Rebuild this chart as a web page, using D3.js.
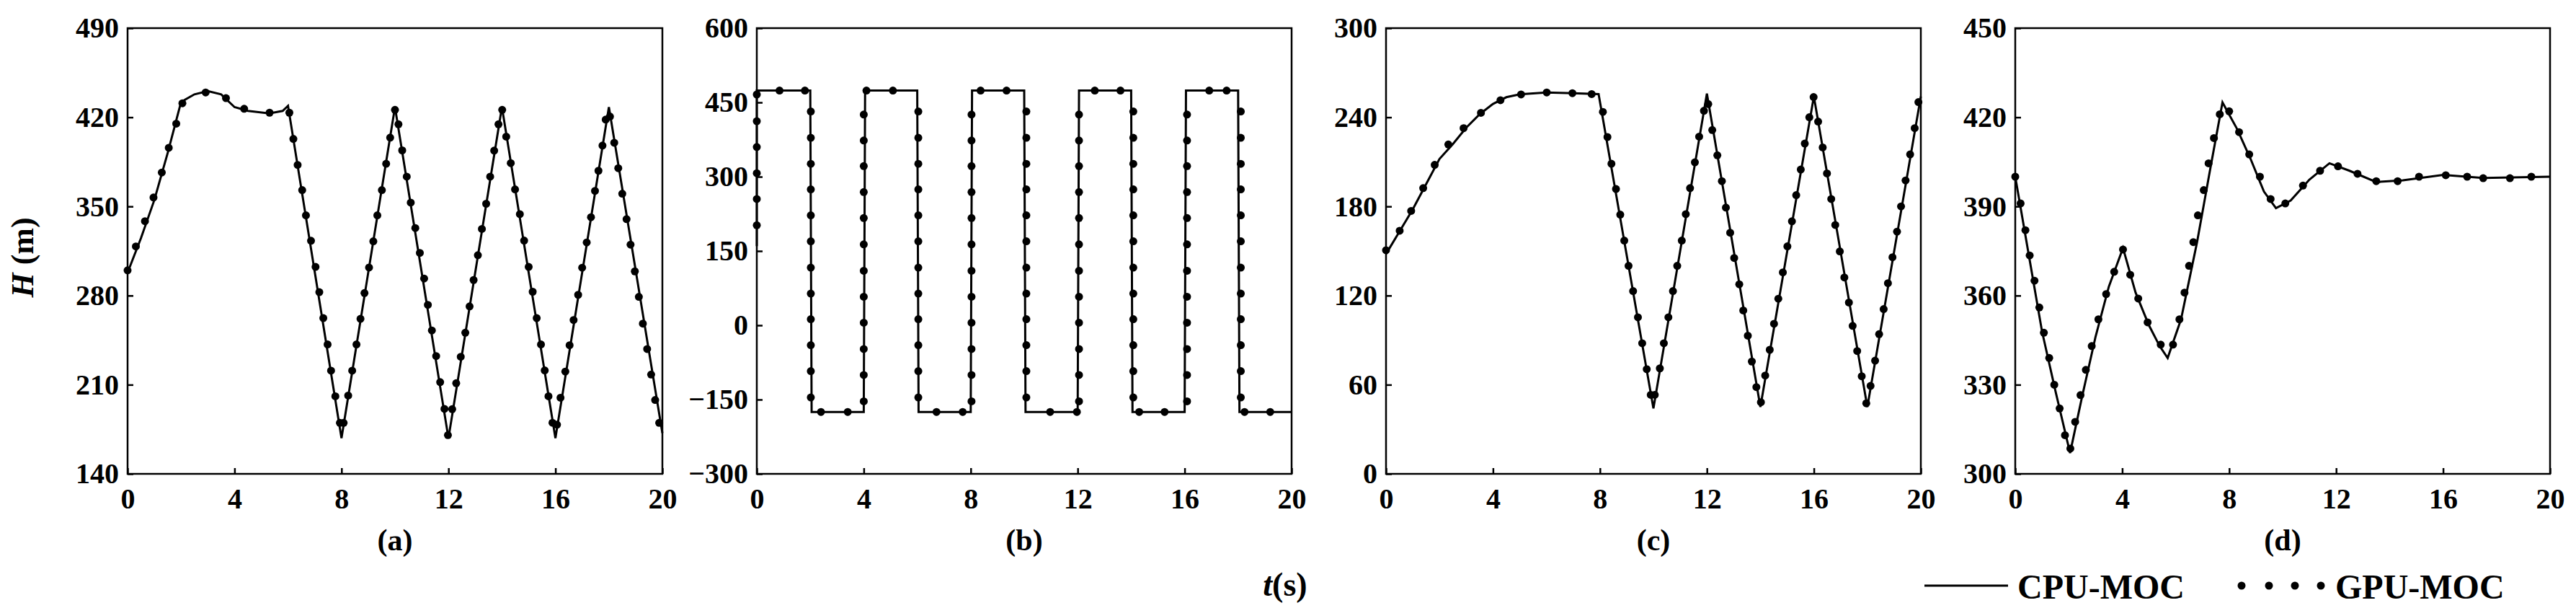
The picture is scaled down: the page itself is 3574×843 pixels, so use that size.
<!DOCTYPE html>
<html>
<head>
<meta charset="utf-8">
<script src="https://cdn.jsdelivr.net/npm/d3@7"></script>
<style>
  body { margin: 0; background: #fff; }
  text { font-family: "Liberation Serif", "DejaVu Serif", serif; font-weight: bold; fill: #000; }
</style>
</head>
<body>
<svg id="chart" width="3574" height="843"></svg>
<script>
// panel (a)
const lineA = [[0,298],[0.5,325],[1,355],[1.5,392],[2,432],[2.5,438],[3,440.5],[3.5,438],[4,428],[4.5,425],[5.3,423],[5.8,425],[6,429],[8,168],[10,428],[12,168],[14,428],[16,168],[18,428],[20,172]];
const dotsA = [[0,299.8],[0.31,318.6],[0.65,338.4],[0.97,357],[1.28,376.6],[1.54,396],[1.82,415],[2.05,431],[2.92,439.5],[3.68,435],[4.36,426.7],[5.31,423.6],[6.05,423.6],
  [6.2,403],[6.36,382.6],[6.53,362.8],[6.67,343],[6.86,323],[7.03,302.5],[7.17,282.7],[7.32,262.3],[7.48,241.6],[7.61,221],[7.77,200.9],[7.94,180],
  [8.08,180],[8.25,201.5],[8.4,221],[8.56,241.6],[8.71,261.7],[8.86,282],[9.03,302],[9.19,322.6],[9.34,343],[9.51,362.8],[9.67,383.5],[9.82,404],[10.0,425.8],
  [10.13,414.5],[10.27,394],[10.44,373.4],[10.59,353],[10.76,333],[10.93,313.5],[11.09,293.4],[11.23,272.7],[11.38,252.6],[11.54,232.5],[11.69,212],[11.85,191],[11.98,170.4],
  [12.14,190.8],[12.29,211.2],[12.46,231.9],[12.63,250.8],[12.79,271.5],[12.94,292.2],[13.1,311.7],[13.25,332.3],[13.41,352.1],[13.56,373.4],[13.71,393.8],[13.87,414.5],[14.01,425.8],
  [14.16,404.8],[14.33,384],[14.49,363.4],[14.67,343.9],[14.83,323.2],[15.0,302.5],[15.15,283],[15.3,262.3],[15.46,241.6],[15.6,221.2],[15.74,200.9],[15.89,180.1],[16.06,178.6],
  [16.19,199.8],[16.37,220.3],[16.53,241],[16.68,260.8],[16.85,280.6],[17.0,301.9],[17.17,321.7],[17.33,341.5],[17.48,362.2],[17.61,378],[17.76,397.8],[17.88,418.2],[18.04,420.6],
  [18.2,400],[18.35,380],[18.5,360],[18.66,340],[18.81,320],[18.97,299],[19.12,279],[19.27,258],[19.43,238],[19.58,218],[19.73,198],[19.88,180]];

// panel (b)
const lineB = [[0,160],[0,474],[2,474],[2.05,-175],[4,-175],[4.05,474],[6,474],[6.05,-175],[8,-175],[8.05,474],[10,474],[10.05,-175],[12,-175],[12.05,474],[14,474],[14.05,-175],[16,-175],[16.05,474],[18,474],[18.05,-175],[20,-175]];
const startB = [466, 412, 360, 307, 255, 202];
const fallT = [2.02, 6.04, 10.08, 14.08, 18.1];
const fallH = [431.7, 378.5, 326, 274.4, 222, 169.6, 116.4, 64, 12.3, -40.2, -92.6, -145.8];
const riseT = [4.0, 8.03, 12.05, 16.09];
const riseH = [-153.6, -100.4, -48, 5.2, 57.7, 110, 163.3, 216.5, 268.9, 321.4, 373, 425.5];
const highT = [0.85, 1.8, 4.1, 5.09, 8.37, 9.34, 12.64, 13.6, 16.92, 17.57];
const lowT = [2.4, 3.4, 6.72, 7.7, 10.97, 11.97, 14.3, 15.25, 18.24, 19.2];

// panel (c)
const lineC = [[0,148],[0.5,163],[1,178],[1.5,195],[2,212],[2.5,222],[3,233],[3.5,242],[4,249],[4.5,253.5],[5,255.5],[6,256.7],[7,256.2],[7.95,255.6],[10,44],[12,256],[14,45],[16,254],[18,45],[20,254]];
const dotsC = [[0,150.5],[0.51,163.6],[0.94,177],[1.39,192.3],[1.82,208],[2.33,221.7],[2.9,232.7],[3.55,243],[4.28,251.5],[5.05,255.4],[6.01,256.7],[6.97,256.2],[7.69,255.6],
  [8.11,243.6],[8.28,226.7],[8.43,208.7],[8.6,191.7],[8.76,174.5],[8.91,157],[9.07,140],[9.24,123],[9.42,105.4],[9.58,87.9],[9.75,70.4],[9.9,53.2],
  [10.05,53.2],[10.24,71],[10.39,87.9],[10.56,105.4],[10.73,123],[10.89,140],[11.06,157],[11.21,174.8],[11.37,192.3],[11.55,209.7],[11.71,227],[11.89,244.4],
  [12.05,248.9],[12.2,231.4],[12.39,214.4],[12.56,197],[12.71,179.2],[12.87,162.3],[13.02,145.3],[13.21,127.6],[13.36,110],[13.53,93],[13.68,75.6],[13.85,58.4],
  [14.02,48.2],[14.18,66.2],[14.35,83.5],[14.51,101],[14.67,117.9],[14.84,135.6],[15.01,153.1],[15.18,170],[15.34,187.6],[15.51,204.8],[15.66,222.3],[15.83,240],
  [15.99,253.6],[16.16,237.1],[16.33,219.7],[16.49,202.2],[16.65,185],[16.8,167.5],[16.97,149.7],[17.14,132.2],[17.31,115.3],[17.45,99.6],[17.62,82.7],[17.79,65.7],
  [17.96,47.5],[18.12,59.2],[18.29,76.2],[18.44,94],[18.61,110.9],[18.77,128.3],[18.94,145.8],[19.11,163],[19.26,180],[19.43,197.5],[19.6,215],[19.77,232.7],[19.91,250.2]];

// panel (d)
const lineD = [[0,400],[0.5,374],[1,348],[1.5,328],[2.05,307],[2.5,326],[3,346],[3.5,363],[4.03,376],[4.5,361],[5,350],[5.4,343],[5.7,339],[6.2,352],[6.8,378],[7.3,403],[7.75,425],[8.3,416],[8.8,406],[9.3,395],[9.75,389.4],[10.3,392],[11,399],[11.75,404.5],[12.5,402],[13.5,398.2],[14.5,398.8],[16,400.6],[17.5,399.6],[20,400]];
const dotsD = [[0,400],[0.2,391],[0.38,382],[0.54,373.5],[0.72,365],[0.9,356],[1.07,347.5],[1.27,339],[1.46,330],[1.66,322],[1.86,313],[2.06,308.5],[2.24,317.5],[2.44,326.5],[2.64,335],[2.86,343],[3.11,352],[3.4,360.5],[3.7,368],[4.03,375.5],
  [4.3,367],[4.6,359],[4.95,351],[5.44,343.5],[5.9,343.5],[6.14,352],[6.33,361],[6.5,370],[6.66,378],[6.83,387],[7.05,395.5],[7.23,404.5],[7.43,413],[7.65,421],[8.0,422],
  [8.37,415],[8.75,407.5],[9.15,400],[9.55,392.5],[10.1,391],[10.76,397],[11.4,402],[12.07,403.5],[12.8,401],[13.5,398.5],[14.3,398.5],[15.1,400],[16.1,400.5],[16.9,400],[17.5,399.5],[18.5,399.5],[19.3,400]];

const xTicks = [0, 4, 8, 12, 16, 20];
const panels = [
  { name: "(a)", line: lineA, dots: dotsA, y: [140, 490], ticks: [140, 210, 280, 350, 420, 490] },
  { name: "(b)", line: lineB, dots: [], y: [-300, 600], ticks: [-300, -150, 0, 150, 300, 450, 600] },
  { name: "(c)", line: lineC, dots: dotsC, y: [0, 300], ticks: [0, 60, 120, 180, 240, 300] },
  { name: "(d)", line: lineD, dots: dotsD, y: [300, 450], ticks: [300, 330, 360, 390, 420, 450] }
];

// build dots for square wave from edge lists
startB.forEach(h => panels[1].dots.push([0, h]));
fallT.forEach(t => fallH.forEach(h => panels[1].dots.push([t, h])));
riseT.forEach(t => riseH.forEach(h => panels[1].dots.push([t, h])));
highT.forEach(t => panels[1].dots.push([t, 474]));
lowT.forEach(t => panels[1].dots.push([t, -175]));

const svg = d3.select("#chart");
const topY = 39, bottomY = 657, pw = 742;

panels.forEach((p, i) => {
  const left = 177 + i * 873;
  const x = d3.scaleLinear().domain([0, 20]).range([left, left + pw]);
  const y = d3.scaleLinear().domain(p.y).range([bottomY, topY]);
  const g = svg.append("g");

  // frame
  g.append("rect").attr("x", left).attr("y", topY).attr("width", pw).attr("height", bottomY - topY)
    .attr("fill", "none").attr("stroke", "#000").attr("stroke-width", 2.5);

  const xa = g.append("g").attr("transform", `translate(0,${bottomY})`)
    .call(d3.axisBottom(x).tickValues(xTicks).tickSize(-8).tickPadding(20));
  const ya = g.append("g").attr("transform", `translate(${left},0)`)
    .call(d3.axisLeft(y).tickValues(p.ticks).tickSize(-8).tickPadding(12));
  [xa, ya].forEach(a => {
    a.select(".domain").remove();
    a.selectAll("line").attr("stroke", "#000").attr("stroke-width", 2.5);
    a.selectAll("text").style("font-size", "40px").style("font-family", "Liberation Serif, serif").style("font-weight", "bold");
  });
  xa.selectAll("text").attr("dy", "0.71em");

  g.append("path").datum(p.line)
    .attr("d", d3.line().x(d => x(d[0])).y(d => y(d[1])))
    .attr("fill", "none").attr("stroke", "#000").attr("stroke-width", 3);

  g.selectAll("circle").data(p.dots).enter().append("circle")
    .attr("cx", d => x(d[0])).attr("cy", d => y(d[1])).attr("r", 5.5).attr("fill", "#000");

  g.append("text").attr("x", left + pw / 2).attr("y", 763).attr("text-anchor", "middle")
    .style("font-size", "42px").text(p.name);
});

// y label
svg.append("text").attr("transform", "translate(46,357) rotate(-90)").attr("text-anchor", "middle")
  .style("font-size", "44px")
  .html('<tspan font-style="italic">H</tspan> (m)');

// x label
svg.append("text").attr("x", 1783).attr("y", 826).attr("text-anchor", "middle")
  .style("font-size", "46px")
  .html('<tspan font-style="italic">t</tspan>(s)');

// legend
svg.append("line").attr("x1", 2670).attr("x2", 2786).attr("y1", 812).attr("y2", 812)
  .attr("stroke", "#000").attr("stroke-width", 3);
svg.append("text").attr("x", 2799).attr("y", 830).style("font-size", "48px").text("CPU-MOC");
svg.selectAll(".legdot").data([3110, 3148, 3184, 3220]).enter().append("circle")
  .attr("cx", d => d).attr("cy", 812).attr("r", 5.5).attr("fill", "#000");
svg.append("text").attr("x", 3240).attr("y", 830).style("font-size", "48px").text("GPU-MOC");
</script>
</body>
</html>
